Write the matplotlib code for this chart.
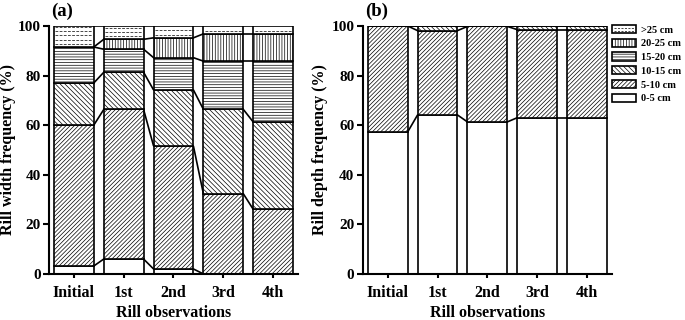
import numpy as np
import matplotlib
matplotlib.use('Agg')
import matplotlib.pyplot as plt
from matplotlib.patches import Patch, Rectangle
from matplotlib.lines import Line2D
from matplotlib.legend_handler import HandlerPatch

plt.rcParams['font.family'] = ['Liberation Serif', 'DejaVu Serif']
plt.rcParams['font.weight'] = 'bold'
plt.rcParams['axes.labelweight'] = 'bold'
plt.rcParams['hatch.linewidth'] = 0.5

observations = ['Initial', '1st', '2nd', '3rd', '4th']
classes = ['0-5 cm', '5-10 cm', '10-15 cm', '15-20 cm', '20-25 cm', '>25 cm']

# rill width frequency (%) per class, one value per observation
width_0_5 = [3.2, 6.0, 2.0, 0.0, 0.0]
width_5_10 = [56.8, 60.3, 49.6, 32.4, 26.1]
width_10_15 = [17.0, 15.0, 22.6, 34.0, 35.2]
width_15_20 = [14.5, 9.3, 13.0, 19.4, 24.5]
width_20_25 = [0.0, 4.0, 8.0, 11.0, 11.0]
width_gt25 = [8.5, 5.4, 4.8, 3.2, 3.2]

# rill depth frequency (%)
depth_0_5 = [57.2, 64.1, 61.3, 63.0, 63.0]
depth_5_10 = [42.8, 34.0, 38.5, 35.5, 35.5]
depth_10_15 = [0.0, 1.9, 0.2, 1.5, 1.5]
depth_15_20 = [0.0, 0.0, 0.0, 0.0, 0.0]
depth_20_25 = [0.0, 0.0, 0.0, 0.0, 0.0]
depth_gt25 = [0.0, 0.0, 0.0, 0.0, 0.0]

hatches = ['', '////////', '\\' * 7, '------', '||||||', None]  # None -> dashed lines


class DashedHandler(HandlerPatch):
    def create_artists(self, legend, orig_handle, xdescent, ydescent,
                       width, height, fontsize, trans):
        rect = Rectangle((-xdescent, -ydescent), width, height, facecolor='white',
                         edgecolor='black', lw=1.2, transform=trans)
        arts = [rect]
        for f in (0.3, 0.65):
            y = -ydescent + f * height
            arts.append(Line2D([-xdescent + 1.5, -xdescent + width - 1.5], [y, y],
                               ls=(0, (3, 2)), lw=0.5, color='black', transform=trans))
        return arts


def stacked(ax, layers, ylabel, tag, label_x):
    x = np.arange(len(observations))
    bottom = np.zeros(len(x))
    cums = [bottom.copy()]
    for vals, h in zip(layers, hatches):
        vals = np.array(vals)
        ax.bar(x, vals, bottom=bottom, width=0.8, color='white', edgecolor='black',
               lw=1.2, hatch=h if h else None, zorder=2)
        if h is None:
            for i in x:
                if vals[i] > 0.5:
                    ys = np.arange(bottom[i] + 1.3, bottom[i] + vals[i] - 0.3, 1.7)
                    ax.hlines(ys, i - 0.37, i + 0.37, colors='black', lw=0.5,
                              linestyles=(0, (4, 2)), zorder=2)
        bottom = bottom + vals
        cums.append(bottom.copy())
    # connecting lines between neighbouring bars
    for c in cums:
        for i in range(len(x) - 1):
            ax.plot([i + 0.4, i + 0.6], [c[i], c[i + 1]], color='black', lw=1.2,
                    zorder=3, solid_capstyle='butt')
    ax.set_xlim(-0.5, 4.5)
    ax.set_ylim(0, 100)
    ax.set_yticks([0, 20, 40, 60, 80, 100])
    ax.set_xticks(x)
    ax.set_xticklabels(observations)
    ax.spines['top'].set_visible(False)
    ax.spines['right'].set_visible(False)
    ax.spines['left'].set_linewidth(1.5)
    ax.spines['bottom'].set_linewidth(1.5)
    ax.tick_params(axis='y', direction='out', length=4, width=1.5, labelsize=11, pad=2)
    ax.tick_params(axis='x', direction='out', length=3, width=1.5, labelsize=11.5, pad=5)
    ax.set_ylabel(ylabel, fontsize=11.5)
    ax.yaxis.set_label_coords(label_x, 0.5)
    ax.set_xlabel('Rill observations', fontsize=11.5, labelpad=3)
    ax.text(0.01, 1.025, tag, transform=ax.transAxes, fontsize=13.5,
            fontweight='bold', ha='left', va='bottom')


fig = plt.figure(figsize=(6.85, 3.2), dpi=100)
ax1 = fig.add_axes([0.0715, 0.144, 0.3635, 0.775])
ax2 = fig.add_axes([0.5295, 0.144, 0.364, 0.775])

stacked(ax1, [width_0_5, width_5_10, width_10_15, width_15_20, width_20_25, width_gt25],
        'Rill width frequency (%)', '(a)', -0.133)
stacked(ax2, [depth_0_5, depth_5_10, depth_10_15, depth_15_20, depth_20_25, depth_gt25],
        'Rill depth frequency (%)', '(b)', -0.139)

handles = []
for h in hatches:
    handles.append(Patch(facecolor='white', edgecolor='black', lw=1.2,
                         hatch=h if h else None))
handler_map = {handles[-1]: DashedHandler()}
fig.legend(handles[::-1], classes[::-1], handler_map=handler_map,
           loc='upper left', bbox_to_anchor=(612 / 685, 295 / 320), frameon=False,
           prop={'family': 'Liberation Serif', 'weight': 'bold', 'size': 7.5},
           handlelength=2.3, handleheight=0.85, labelspacing=0.38,
           handletextpad=0.5, borderpad=0, borderaxespad=0)

fig.savefig('out.png', dpi=100)
